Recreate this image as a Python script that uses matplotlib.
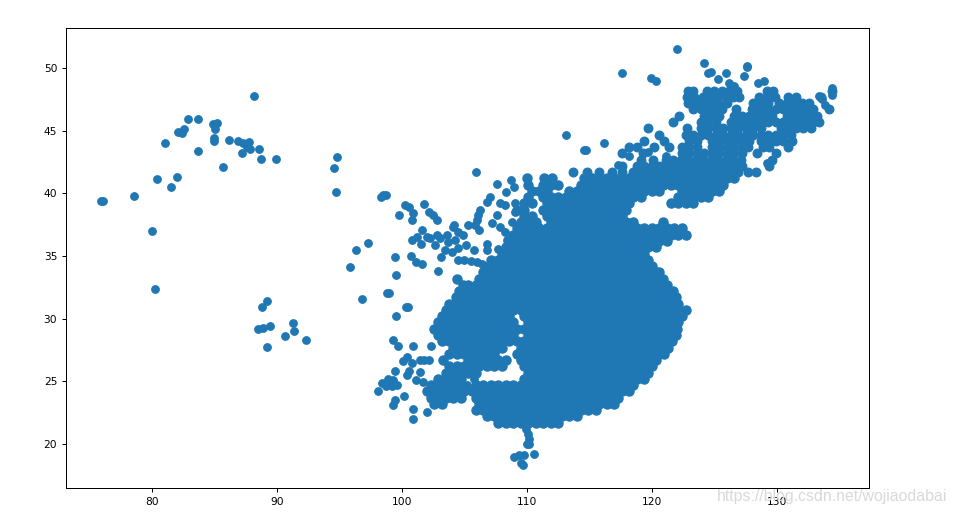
import matplotlib
matplotlib.use("Agg")
import matplotlib.pyplot as plt

# points, the dense part row by row
row_lat = [21.7, 22.2, 22.7, 23.2, 23.7, 24.2, 24.7, 25.2, 25.7, 26.2,
           26.7, 27.2, 27.7, 28.2, 28.7, 29.2, 29.7, 30.2, 30.7, 31.2,
           31.7, 32.2, 32.7, 33.2, 33.7, 34.2, 34.7, 35.2, 35.7, 36.2,
           36.7, 37.2, 37.7, 38.2, 38.7, 39.2, 39.7, 40.2, 40.7, 41.2,
           41.7, 42.2, 42.7, 43.2, 43.7, 44.2, 44.7, 45.2, 45.7, 46.2,
           46.7, 47.2, 47.7, 48.2]

row_lon = [
    [107.7, 108.3, 108.9, 109.5, 110.1, 110.7, 111.3, 111.9, 112.5],
    [106.8, 107.4, 108.0, 108.6, 109.2, 109.8, 110.4, 111.0, 111.6, 112.2, 112.8, 113.4, 114.0],
    [105.9, 106.5, 107.1, 107.7, 108.3, 108.9, 109.5, 110.1, 110.7, 111.3, 111.9, 112.5, 113.1, 113.7, 114.3, 114.9, 115.5],
    [102.6, 103.2, 106.2, 106.8, 107.4, 108.0, 108.6, 109.2, 109.8, 110.4, 111.0, 111.6, 112.2, 112.8, 113.4, 114.0, 114.6, 115.2, 115.8, 116.4, 117.0],
    [102.3, 102.9, 103.5, 104.1, 104.7, 105.9, 106.5, 107.1, 107.7, 108.3, 108.9, 109.5, 110.1, 110.7, 111.3, 111.9, 112.5, 113.1, 113.7, 114.3, 114.9, 115.5, 116.1, 116.7, 117.3],
    [102.0, 102.6, 103.2, 103.8, 104.4, 105.0, 105.6, 106.2, 106.8, 107.4, 108.0, 108.6, 109.2, 109.8, 110.4, 111.0, 111.6, 112.2, 112.8, 113.4, 114.0, 114.6, 115.2, 115.8, 116.4, 117.0, 117.6, 118.2],
    [102.3, 102.9, 103.5, 104.1, 104.7, 105.9, 106.5, 107.1, 107.7, 108.3, 108.9, 109.5, 110.1, 110.7, 111.3, 111.9, 112.5, 113.1, 113.7, 114.3, 114.9, 115.5, 116.1, 116.7, 117.3, 117.9, 118.5],
    [102.9, 103.5, 104.1, 104.7, 109.8, 110.4, 111.0, 111.6, 112.2, 112.8, 113.4, 114.0, 114.6, 115.2, 115.8, 116.4, 117.0, 117.6, 118.2, 118.8, 119.4],
    [103.5, 104.1, 104.7, 105.3, 105.9, 110.1, 110.7, 111.3, 111.9, 112.5, 113.1, 113.7, 114.3, 114.9, 115.5, 116.1, 116.7, 117.3, 117.9, 118.5, 119.1, 119.7],
    [103.8, 104.4, 105.0, 105.6, 106.2, 106.8, 107.4, 108.0, 109.8, 110.4, 111.0, 111.6, 112.2, 112.8, 113.4, 114.0, 114.6, 115.2, 115.8, 116.4, 117.0, 117.6, 118.2, 118.8, 119.4, 120.0],
    [103.3, 105.3, 105.9, 106.5, 107.1, 107.7, 108.3, 109.5, 110.1, 110.7, 111.3, 111.9, 112.5, 113.1, 113.7, 114.3, 114.9, 115.5, 116.1, 116.7, 117.3, 117.9, 118.5, 119.1, 119.7, 120.3],
    [103.8, 104.4, 105.0, 105.6, 106.2, 106.8, 107.4, 109.2, 109.8, 110.4, 111.0, 111.6, 112.2, 112.8, 113.4, 114.0, 114.6, 115.2, 115.8, 116.4, 117.0, 117.6, 118.2, 118.8, 119.4, 120.0, 120.6, 121.0],
    [104.1, 104.7, 105.3, 105.9, 106.5, 107.1, 107.7, 108.0, 109.5, 110.1, 110.7, 111.3, 111.9, 112.5, 113.1, 113.7, 114.3, 114.9, 115.5, 116.1, 116.7, 117.3, 117.9, 118.5, 119.1, 119.7, 120.3, 120.9, 121.3],
    [103.2, 103.8, 104.4, 105.0, 105.6, 106.2, 106.8, 107.4, 108.0, 108.6, 109.2, 109.8, 110.4, 111.0, 111.6, 112.2, 112.8, 113.4, 114.0, 114.6, 115.2, 115.8, 116.4, 117.0, 117.6, 118.2, 118.8, 119.4, 120.0, 120.6, 121.2, 121.6],
    [102.9, 103.5, 104.1, 104.7, 105.3, 105.9, 106.5, 107.1, 107.7, 108.3, 108.9, 110.1, 110.7, 111.3, 111.9, 112.5, 113.1, 113.7, 114.3, 114.9, 115.5, 116.1, 116.7, 117.3, 117.9, 118.5, 119.1, 119.7, 120.3, 120.9, 121.5, 121.9],
    [102.6, 103.2, 103.8, 104.4, 105.0, 105.6, 106.2, 106.8, 107.4, 108.0, 108.6, 109.2, 109.8, 110.4, 111.0, 111.6, 112.2, 112.8, 113.4, 114.0, 114.6, 115.2, 115.8, 116.4, 117.0, 117.6, 118.2, 118.8, 119.4, 120.0, 120.6, 121.2, 121.8, 122.0],
    [102.9, 103.5, 104.1, 104.7, 105.3, 105.9, 106.5, 107.1, 107.7, 108.3, 108.9, 110.1, 110.7, 111.3, 111.9, 112.5, 113.1, 113.7, 114.3, 114.9, 115.5, 116.1, 116.7, 117.3, 117.9, 118.5, 119.1, 119.7, 120.3, 120.9, 121.5, 122.1],
    [103.2, 103.8, 104.4, 105.0, 105.6, 106.2, 106.8, 107.4, 108.0, 108.6, 109.8, 110.4, 111.0, 111.6, 112.2, 112.8, 113.4, 114.0, 114.6, 115.2, 115.8, 116.4, 117.0, 117.6, 118.2, 118.8, 119.4, 120.0, 120.6, 121.2, 121.8, 122.4],
    [103.5, 104.1, 104.7, 105.3, 105.9, 106.5, 107.1, 107.7, 108.3, 108.9, 109.5, 110.1, 110.7, 111.3, 111.9, 112.5, 113.1, 113.7, 114.3, 114.9, 115.5, 116.1, 116.7, 117.3, 117.9, 118.5, 119.1, 119.7, 120.3, 120.9, 121.5, 122.1, 122.7],
    [103.8, 104.4, 105.0, 105.6, 106.2, 106.8, 107.4, 108.0, 108.6, 109.2, 109.8, 110.4, 111.0, 111.6, 112.2, 112.8, 113.4, 114.0, 114.6, 115.2, 115.8, 116.4, 117.0, 117.6, 118.2, 118.8, 119.4, 120.0, 120.6, 121.2, 121.8, 122.1],
    [104.3, 104.7, 105.3, 105.9, 106.5, 107.1, 107.7, 108.3, 108.9, 109.5, 110.1, 110.7, 111.3, 111.9, 112.5, 113.1, 113.7, 114.3, 114.9, 115.5, 116.1, 116.7, 117.3, 117.9, 118.5, 119.1, 119.7, 120.3, 120.9, 121.5, 121.9],
    [104.6, 105.0, 105.6, 106.2, 106.8, 107.4, 108.0, 108.6, 109.2, 109.8, 110.4, 111.0, 111.6, 112.2, 112.8, 113.4, 114.0, 114.6, 115.2, 115.8, 116.4, 117.0, 117.6, 118.2, 118.8, 119.4, 120.0, 120.6, 121.2, 121.7],
    [104.9, 105.3, 105.9, 106.5, 107.1, 107.7, 108.3, 108.9, 109.5, 110.1, 110.7, 111.3, 111.9, 112.5, 113.1, 113.7, 114.3, 114.9, 115.5, 116.1, 116.7, 117.3, 117.9, 118.5, 119.1, 119.7, 120.3, 120.9, 121.2],
    [104.4, 106.2, 106.8, 107.4, 108.0, 108.6, 109.2, 109.8, 110.4, 111.0, 111.6, 112.2, 112.8, 113.4, 114.0, 114.6, 115.2, 115.8, 116.4, 117.0, 117.6, 118.2, 118.8, 119.4, 120.0, 120.6, 120.9],
    [106.5, 107.1, 107.7, 108.3, 108.9, 109.5, 110.1, 110.7, 111.3, 111.9, 112.5, 113.1, 113.7, 114.3, 114.9, 115.5, 116.1, 116.7, 117.3, 117.9, 118.5, 119.1, 119.7, 120.3, 120.6],
    [107.0, 107.4, 108.0, 108.6, 109.2, 109.8, 110.4, 111.0, 111.6, 112.2, 112.8, 113.4, 114.0, 114.6, 115.2, 115.8, 116.4, 117.0, 117.6, 118.2, 118.8, 119.4, 120.0],
    [107.1, 107.7, 108.3, 108.9, 109.5, 110.1, 110.7, 111.3, 111.9, 112.5, 113.1, 113.7, 114.3, 114.9, 115.5, 116.1, 116.7, 117.3, 117.9, 118.5, 119.1, 119.7],
    [108.0, 108.6, 109.2, 109.8, 110.4, 111.0, 111.6, 112.2, 112.8, 113.4, 114.0, 114.6, 115.2, 115.8, 116.4, 117.0, 117.6, 118.2, 118.8, 119.4],
    [108.3, 108.9, 109.5, 110.1, 110.7, 111.3, 111.9, 112.5, 113.1, 113.7, 114.3, 114.9, 115.5, 116.1, 116.7, 117.3, 117.9, 118.5, 119.1, 119.7, 120.3],
    [108.6, 109.2, 109.8, 110.4, 111.0, 111.6, 112.2, 112.8, 113.4, 114.0, 114.6, 115.2, 115.8, 116.4, 117.0, 117.6, 118.2, 118.8, 119.4, 120.0, 120.6, 121.2],
    [108.9, 109.5, 110.1, 110.7, 111.3, 111.9, 112.5, 113.1, 113.7, 114.3, 114.9, 115.5, 116.1, 116.7, 117.3, 117.9, 118.5, 119.1, 119.7, 120.3, 120.9, 121.5, 122.1, 122.7],
    [109.2, 109.8, 110.4, 111.0, 111.6, 112.2, 112.8, 113.4, 114.0, 114.6, 115.2, 115.8, 116.4, 117.0, 117.6, 118.2, 118.8, 119.4, 120.0, 120.6, 121.2, 121.8, 122.4],
    [109.5, 110.1, 110.7, 111.9, 112.5, 113.1, 113.7, 114.3, 114.9, 115.5, 116.1, 116.7, 117.3, 117.9, 118.5, 120.9],
    [109.8, 110.4, 111.6, 112.2, 112.8, 113.4, 114.0, 114.6, 115.2, 115.8, 116.4, 117.0, 117.6],
    [109.2, 109.8, 111.3, 111.9, 112.5, 113.1, 113.7, 114.3, 114.9, 115.5, 116.1, 116.7, 117.3, 117.9],
    [109.8, 110.4, 111.6, 112.2, 112.8, 113.4, 114.0, 114.6, 115.2, 115.8, 116.4, 117.0, 117.6, 118.2, 121.5, 122.1, 122.7, 123.3],
    [110.1, 111.3, 111.9, 112.5, 113.1, 113.7, 114.3, 114.9, 115.5, 116.1, 116.7, 117.3, 117.9, 118.5, 119.1, 122.1, 122.7, 123.3, 123.9, 124.5],
    [110.4, 111.0, 111.6, 113.4, 114.0, 114.6, 115.2, 115.8, 116.4, 117.0, 117.6, 118.2, 118.8, 119.4, 120.0, 120.6, 122.4, 123.0, 123.6, 124.2, 124.8, 125.4],
    [110.1, 111.3, 111.9, 112.5, 114.3, 114.9, 115.5, 116.1, 116.7, 117.3, 117.9, 118.5, 119.1, 119.7, 120.3, 120.9, 121.5, 122.1, 122.7, 123.3, 123.9, 124.5, 125.1, 125.7],
    [110.0, 111.4, 112.0, 114.6, 115.2, 115.8, 116.4, 117.0, 117.6, 118.2, 118.8, 119.4, 120.0, 120.6, 121.2, 121.8, 122.4, 123.0, 123.6, 124.2, 124.8, 125.4, 126.0, 126.6],
    [113.7, 114.8, 115.8, 116.8, 117.6, 118.5, 119.1, 119.7, 120.3, 120.9, 121.5, 122.1, 122.7, 123.3, 123.9, 124.5, 125.1, 125.7, 126.3, 126.9, 127.7, 128.3],
    [117.6, 118.8, 119.4, 120.0, 120.6, 121.2, 121.8, 122.4, 123.0, 123.6, 124.2, 124.8, 125.4, 126.0, 126.6, 127.2, 129.4],
    [119.1, 120.1, 121.1, 121.7, 122.3, 122.9, 123.5, 124.1, 124.7, 125.3, 125.9, 126.5, 127.1, 129.6],
    [117.6, 119.25, 122.4, 123.0, 123.6, 124.2, 124.8, 125.4, 126.0, 126.6, 127.2, 128.4, 129.9],
    [118.2, 118.8, 120.2, 121.4, 122.4, 122.9, 123.6, 124.8, 125.4, 126.0, 126.6, 127.2, 127.7, 128.9, 129.4, 130.9],
    [119.4, 120.95, 123.0, 123.6, 124.8, 125.4, 126.0, 126.6, 127.2, 127.8, 128.7, 129.3, 129.9, 130.5, 131.2],
    [120.6, 122.7, 123.3, 123.9, 124.5, 125.1, 125.7, 126.3, 126.9, 127.5, 128.1, 128.7, 129.3, 129.9, 130.5, 131.1],
    [119.7, 122.8, 123.9, 124.5, 125.1, 125.7, 126.3, 126.9, 127.5, 128.1, 128.7, 130.3, 130.9, 131.5, 132.1, 132.7],
    [121.65, 123.9, 124.5, 125.1, 126.3, 126.9, 127.5, 128.1, 128.7, 129.3, 129.9, 130.5, 131.1, 131.7, 132.3, 132.9, 133.4],
    [122.2, 124.2, 124.8, 125.4, 126.6, 127.2, 127.8, 128.4, 129.0, 129.6, 130.8, 131.4, 132.0, 132.6, 133.2],
    [123.3, 123.9, 124.5, 125.1, 125.6, 126.7, 128.0, 128.6, 129.3, 129.9, 130.5, 131.1, 131.7, 132.3, 132.9, 134.2],
    [122.9, 123.5, 124.1, 124.7, 125.3, 126.0, 128.1, 128.7, 129.3, 130.2, 130.8, 131.4, 132.0, 132.6],
    [122.8, 123.4, 124.1, 124.7, 125.3, 125.9, 126.5, 127.0, 128.6, 129.2, 129.8, 130.9, 131.5, 133.5],
    [122.9, 123.3, 124.4, 125.0, 125.6, 126.2, 126.8, 129.2, 129.7, 134.4],
]

# everything that stands apart from the main mass
lon_far = [88.2, 82.9, 83.7, 84.9, 85.2, 85.05, 82.6, 82.1, 82.4, 81.0, 84.96, 84.97, 86.2, 86.9, 87.3, 87.8, 87.6, 87.85, 87.2,
           88.55, 88.75, 89.9, 83.7, 85.7, 94.8, 94.6, 94.75, 82.0, 80.4, 81.55, 78.6, 75.9, 76.05, 80.0, 80.2, 89.2, 88.8, 89.45,
           88.9, 88.45, 91.25, 91.35, 90.65, 92.3, 89.2, 97.3, 96.3, 95.85, 96.8, 98.3, 98.5, 98.7]
lat_far = [47.8, 45.93, 45.93, 45.55, 45.6, 45.15, 45.1, 44.9, 44.8, 44.0, 44.4, 44.2, 44.3, 44.15, 44.05, 44.1, 43.7, 43.55, 43.25,
           43.55, 42.75, 42.75, 43.35, 42.1, 42.87, 42.0, 40.08, 41.33, 41.15, 40.55, 39.8, 39.4, 39.4, 37.0, 32.4, 31.38, 30.95, 29.45,
           29.25, 29.15, 29.65, 29.05, 28.6, 28.3, 27.75, 36.05, 35.5, 34.1, 31.55, 39.7, 39.85, 39.9]

lon_west = [105.9, 107.6, 108.7, 109.0, 108.3, 101.8, 100.25, 100.6, 100.9, 99.8, 100.8, 102.15, 102.5, 102.8, 99.4, 99.5, 98.8, 99.0,
            100.3, 100.5, 99.5, 102.85, 100.75, 101.1, 101.6, 103.15, 104.4, 100.77, 101.57, 101.97, 101.49, 101.17, 102.64, 103.04,
            103.57, 104.11, 103.71, 104.24, 104.91, 105.12, 103.44, 103.97, 104.51, 102.24, 102.77, 104.51, 105.3, 105.84, 106.77,
            106.24, 105.97, 107.04, 107.84, 108.24, 109.04, 109.04, 108.77, 108.24, 108.37, 107.17, 107.84, 106.2, 107.6, 106.1,
            104.5, 105.0, 105.5, 106.0, 106.4, 105.8, 106.8, 106.8, 107.7, 104.2]
lat_west = [41.7, 40.75, 41.05, 40.5, 40.1, 39.15, 39.05, 38.95, 38.45, 38.3, 37.9, 38.5, 38.3, 37.9, 34.9, 33.5, 32.05, 32.05,
            30.9, 30.9, 30.25, 33.8, 35.0, 34.55, 34.4, 34.9, 33.15, 36.28, 37.07, 36.54, 35.96, 36.54, 35.88, 36.41,
            36.68, 37.34, 36.14, 36.28, 36.68, 35.88, 35.48, 35.35, 35.61, 36.41, 36.68, 36.94, 37.5, 37.47, 39.34,
            38.67, 37.87, 39.73, 39.2, 39.07, 39.2, 38.54, 37.74, 36.94, 36.28, 37.6, 37.34, 37.1, 38.3, 38.3,
            34.7, 34.7, 34.6, 34.5, 34.4, 35.5, 36.0, 35.5, 35.6, 37.5]

lon_sw = [101.4, 101.8, 102.2, 100.1, 100.4, 100.8, 101.4, 100.6, 100.4, 99.4, 99.3, 99.7, 100.9, 102.3, 98.4, 98.9, 99.3, 99.6, 98.1,
          98.7, 99.2, 100.2, 99.4, 99.3, 101.1, 101.7, 100.9, 100.9, 102.0, 102.9, 105.2, 105.8]
lat_sw = [26.7, 26.7, 26.7, 26.6, 26.95, 26.45, 25.75, 25.8, 25.5, 25.8, 28.3, 27.8, 27.8, 27.8, 24.9, 25.2, 25.1, 24.7, 24.2,
          24.6, 24.6, 23.8, 23.5, 23.1, 25.1, 24.95, 22.8, 22.0, 22.55, 23.4, 24.7, 25.2]

# tail under the mass at about 110E
lon_tail = [109.9, 110.1, 110.2, 110.0, 110.2, 109.0, 109.4, 109.8, 109.5, 109.7, 110.6]
lat_tail = [21.2, 20.8, 20.4, 20.0, 20.0, 19.0, 19.1, 19.1, 18.5, 18.3, 19.2]

# stray points around the north east band
lon_ne = [122.0, 124.2, 124.5, 124.7, 125.9, 125.3, 127.6, 127.6, 127.4, 128.5, 129.0, 126.2, 126.6, 117.6, 119.9, 120.3, 133.4, 133.6,
          133.8, 134.4, 134.4, 113.1, 114.6, 114.7, 116.2, 119.7, 120.1, 121.1, 129.2, 130.9, 128.9, 117.3, 118.2]
lat_ne = [51.5, 50.4, 49.6, 49.7, 49.6, 49.1, 50.2, 50.1, 49.35, 48.8, 49.0, 48.8, 48.6, 49.6, 49.2, 49.0, 47.8, 47.5,
          47.05, 48.4, 47.85, 44.65, 43.45, 43.45, 44.0, 43.3, 42.4, 43.0, 42.4, 44.0, 43.85, 42.3, 43.0]

x_ticks = [80, 90, 100, 110, 120, 130]
y_ticks = [20, 25, 30, 35, 40, 45, 50]

# the mass is only sampled here, so its rows get a bigger dot to close up
dense_lon = []
dense_lat = []
band_lon = []
band_lat = []
for y, xs in zip(row_lat, row_lon):
    if y < 41.5:
        dense_lon += xs
        dense_lat += [y] * len(xs)
    else:
        band_lon += xs
        band_lat += [y] * len(xs)
lon = lon_far + lon_west + lon_sw + lon_tail + lon_ne
lat = lat_far + lat_west + lat_sw + lat_tail + lat_ne

fig = plt.figure(figsize=(957 / 90, 515 / 90), dpi=90)
ax = fig.add_axes([66 / 957, 1 - 488 / 515, 803 / 957, 460 / 515])
ax.scatter(dense_lon, dense_lat, s=54, color="#1f77b4")
ax.scatter(band_lon, band_lat, s=48, color="#1f77b4")
ax.scatter(lon, lat, color="#1f77b4")
ax.set_xlim(73.12, 137.36)
ax.set_ylim(16.49, 53.2)
ax.set_xticks(x_ticks)
ax.set_yticks(y_ticks)
ax.tick_params(labelsize=8.5)

# csdn watermark
fig.text(717 / 957, 1 - 497 / 515, "https://blog.csdn.net/wojiaodabai", color="#d9d9d9",
         fontsize=12.7, family="Liberation Sans", va="center", ha="left", zorder=10)

fig.savefig("out.png", dpi=90)
